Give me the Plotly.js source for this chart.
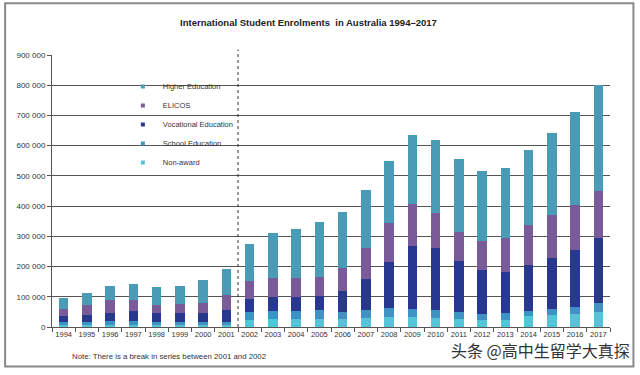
<!DOCTYPE html>
<html>
<head>
<meta charset="utf-8">
<script src="https://cdn.plot.ly/plotly-3.0.1.min.js"></script>
<style>
html,body{margin:0;padding:0;background:#fff;}
#chart{width:640px;height:375px;}
</style>
</head>
<body>
<div id="chart"></div>
<script>
const years = ["1994","1995","1996","1997","1998","1999","2000","2001","2002","2003","2004","2005","2006","2007","2008","2009","2010","2011","2012","2013","2014","2015","2016","2017"];
const nonAward   = [5,5,5,5,5,5,5,5,24,26,26,28,27,30,33,33,30,28,24,24,35,39,44,50];
const school     = [10,13,15,15,13,13,12,13,26,28,26,27,24,27,30,27,25,22,20,22,19,22,22,28];
const vocational = [20,22,26,32,28,28,29,39,44,45,47,48,69,102,152,207,208,168,146,136,150,168,188,216];
const elicos     = [25,33,44,36,27,30,35,50,57,63,63,63,76,102,129,140,114,96,95,112,134,143,151,156];
const higher     = [36,39,46,54,58,60,75,86,124,149,163,182,186,193,204,227,242,241,230,232,249,271,306,352];
const yTicks = [0,100000,200000,300000,400000,500000,600000,700000,800000,900000];

const k = v => v.map(x => x*1000);
const series = [
  {name:"Non-award", y:nonAward, color:"#55c4d8"},
  {name:"School Education", y:school, color:"#3f93c4"},
  {name:"Vocational Education", y:vocational, color:"#28388f"},
  {name:"ELICOS", y:elicos, color:"#7a5b9a"},
  {name:"Higher Education", y:higher, color:"#4a9cb6"}
];
const traces = series.map(s => ({
  type:"bar", x:years, y:k(s.y), name:s.name, showlegend:false,
  marker:{color:s.color, line:{width:0}}
}));
// legend entries with small square keys (top to bottom: Higher ... Non-award)
series.slice().reverse().forEach(s => traces.push({
  type:"scatter", mode:"markers", x:[null], y:[null], name:s.name,
  marker:{symbol:"square", size:4, color:s.color}
}));

const font = "Liberation Sans, Arial, sans-serif";
const layout = {
  width:640, height:375,
  margin:{l:52, r:30, t:55, b:48},
  barmode:"stack", bargap:0.6,
  separators:". ",
  paper_bgcolor:"#fff", plot_bgcolor:"#fff",
  font:{family:font, size:8, color:"#333"},
  title:{text:"<b>International Student Enrolments  in Australia 1994–2017</b>", x:0.482, xanchor:"center", y:0.94, yanchor:"middle", font:{family:font, size:9.5, color:"#222"}},
  xaxis:{type:"category", range:[-0.5,23.5], showline:true, linecolor:"#555", linewidth:1,
         ticks:"outside", tickson:"boundaries", ticklen:4, tickcolor:"#555", showgrid:false,
         tickangle:0, tickfont:{size:7.5, color:"#333"}},
  yaxis:{range:[0,900000], tickvals:yTicks, tickformat:",d", showline:true, linecolor:"#555", linewidth:1,
         ticks:"outside", ticklen:4, tickcolor:"#555", showgrid:true, gridcolor:"#555", gridwidth:1,
         zeroline:false, tickfont:{size:8, color:"#333"}},
  legend:{x:0.127, y:0.9375, xanchor:"left", yanchor:"top", bgcolor:"rgba(0,0,0,0)", font:{size:7.5, color:"#333"},
          traceorder:"normal", itemwidth:30, tracegroupgap:0},
  shapes:[
    {type:"rect", xref:"paper", yref:"paper", x0:0.181, x1:0.328, y0:0.6, y1:0.93, layer:"between", line:{width:0}, fillcolor:"#fff"},
    {type:"line", xref:"x", yref:"paper", x0:7.5, x1:7.5, y0:0, y1:1.02, line:{color:"#333", width:1, dash:"dot"}},
    {type:"rect", xref:"paper", yref:"paper", x0:-0.084, x1:1.042, y0:-0.145, y1:1.19, line:{color:"#888", width:2}, fillcolor:"rgba(0,0,0,0)"}
  ],
  annotations:[
    {text:"Note: There is a break in series between 2001 and 2002", xref:"paper", yref:"paper", x:0.032, y:-0.11, xanchor:"left", yanchor:"middle", showarrow:false, font:{size:7.8, color:"#333"}},
    {text:"头条 @高中生留学大真探", xref:"paper", yref:"paper", x:1.04, y:-0.085, xanchor:"right", yanchor:"middle", showarrow:false, font:{family:"Noto Sans CJK SC", size:16, color:"#333"}}
  ]
};
Plotly.newPlot("chart", traces, layout, {displayModeBar:false, staticPlot:true});
</script>
</body>
</html>
